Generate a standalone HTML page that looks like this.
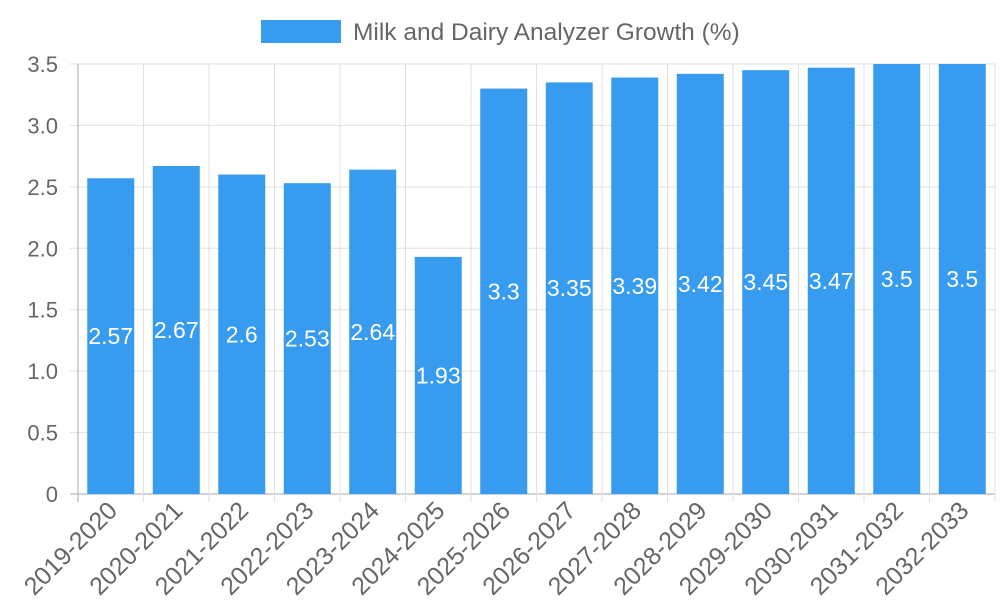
<!DOCTYPE html>
<html><head><meta charset="utf-8"><style>
body{margin:0;background:#fff;font-family:"Liberation Sans",sans-serif}
svg text{font-family:"Liberation Sans",sans-serif}
</style></head><body>
<svg id="chart" width="1000" height="600">
<rect x="261" y="20" width="80" height="23" fill="#379cf0"/>
<text x="353" y="40" font-size="24.5" fill="#666">Milk and Dairy Analyzer Growth (%)</text>
<g id="grid"></g><g id="bars"></g><g id="labels"></g>
</svg>
<script>
const categories=["2019-2020","2020-2021","2021-2022","2022-2023","2023-2024","2024-2025","2025-2026","2026-2027","2027-2028","2028-2029","2029-2030","2030-2031","2031-2032","2032-2033"];
const values=[2.57,2.67,2.6,2.53,2.64,1.93,3.3,3.35,3.39,3.42,3.45,3.47,3.5,3.5];
const yTicks=[0,0.5,1.0,1.5,2.0,2.5,3.0,3.5];
const yTickLabels=["0","0.5","1.0","1.5","2.0","2.5","3.0","3.5"];
const NS="http://www.w3.org/2000/svg";
const L=78,R=995,T=64,B=494,yMax=3.5;
const step=(R-L)/categories.length;
const y=v=>B-(v/yMax)*(B-T);
const xc=i=>L+step*(i+0.5);
function mk(tag,attrs,parent){const e=document.createElementNS(NS,tag);for(const k in attrs)e.setAttribute(k,attrs[k]);document.getElementById(parent).appendChild(e);return e;}
yTicks.forEach((t,i)=>{
 const g=mk('line',{x1:70,x2:R,y1:y(t),y2:y(t),stroke:i===0?'#aaa':'#e0e0e0','stroke-width':1},'grid');
 
 
 const tx=mk('text',{x:58,y:y(t)+8,'text-anchor':'end','font-size':22,fill:'#666'},'grid');
 tx.textContent=yTickLabels[i];
 
 
});
for(let i=0;i<=categories.length;i++){
 const x=L+step*i;
 const g=mk('line',{x1:x,x2:x,y1:T,y2:502,stroke:i===0?'#aaa':'#e0e0e0','stroke-width':1},'grid');
 
 
}
categories.forEach((c,i)=>{
 const bw=47;
 const r=mk('rect',{x:xc(i)-bw/2,y:y(values[i]),width:bw,height:B-y(values[i]),fill:'#379cf0'},'bars');
 
 
 const v=mk('text',{x:xc(i),y:(y(values[i])+B)/2+8,'text-anchor':'middle','font-size':23,fill:'#fff'},'labels');
 v.textContent=values[i];
 
 
 const xl=mk('text',{x:0,y:0,'text-anchor':'end','font-size':25,fill:'#666',transform:`translate(${xc(i)+8},${512}) rotate(-45)`},'labels');
 xl.textContent=c;
 
 
});
</script>
</body></html>
